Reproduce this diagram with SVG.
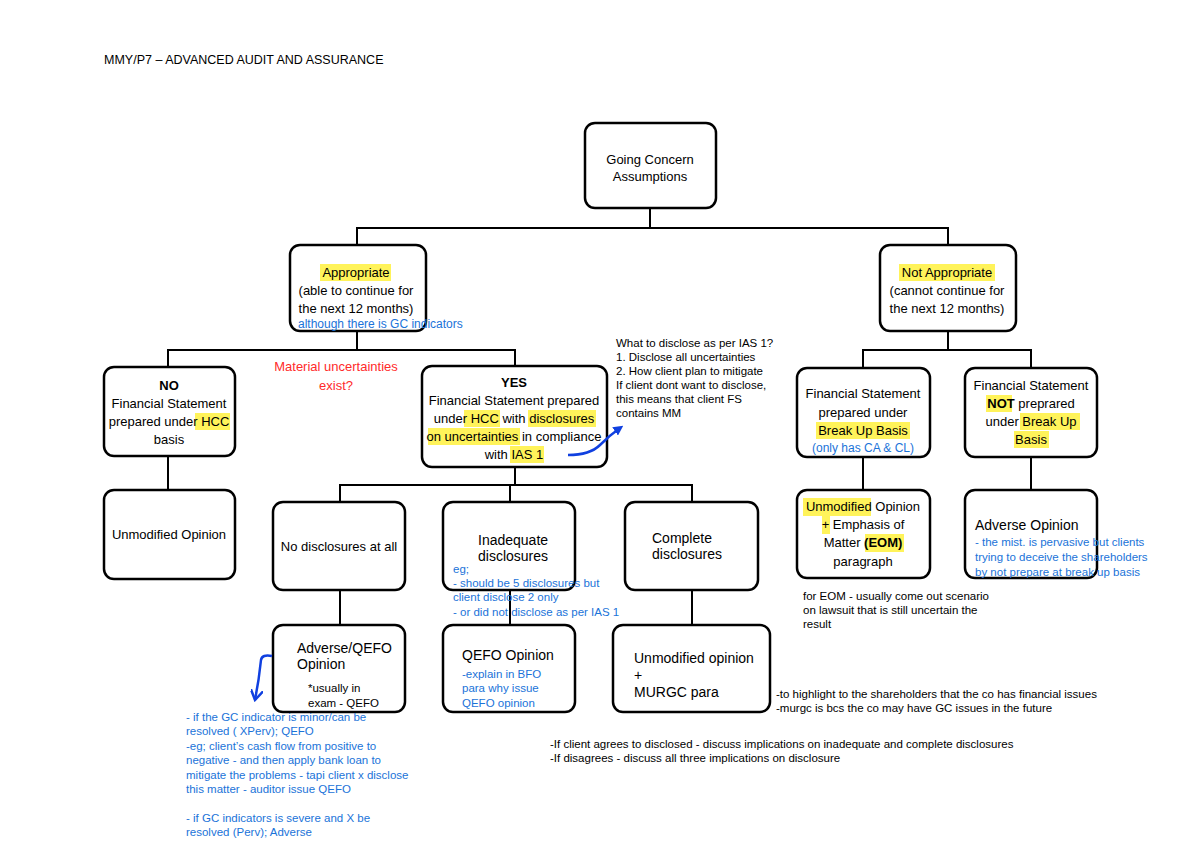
<svg xmlns="http://www.w3.org/2000/svg" width="1200" height="849" viewBox="0 0 1200 849">
<style>
.b{fill:#fff;stroke:#000;stroke-width:2.5}
.c{fill:none;stroke:#000;stroke-width:2}
text{font-family:"Liberation Sans",Arial,sans-serif;font-size:13px;fill:#000}
.m{text-anchor:middle}
.s{font-size:11.5px}
.bl{fill:#1a73d9}
.r{fill:#ff2a2a}
.h{fill:#fff35a}
.ba{fill:none;stroke:#1040e0;stroke-width:2.5}
</style>
<defs><marker id="ah" viewBox="0 0 10 10" refX="6" refY="5" markerWidth="4" markerHeight="4" orient="auto"><path d="M0,0 L10,5 L0,10 z" fill="#1040e0"/></marker>
<marker id="av" viewBox="0 0 10 10" refX="8" refY="5" markerWidth="5" markerHeight="5" orient="auto"><path d="M0,0 L8,5 L0,10" fill="none" stroke="#1040e0" stroke-width="2"/></marker></defs>
<rect width="1200" height="849" fill="#fff"/>
<text x="104" y="64" style="font-size:12.5px">MMY/P7 – ADVANCED AUDIT AND ASSURANCE</text>
<g id="connectors">
<path class="c" d="M650,208V228M357,245V228H948V245M357,331V350M168,367V350H515V366M168,456V490M515,467V485M340,502V485H692V502M510,485V502M340,590V625M510,590V625M692,590V625M948,331V350M863,368V350H1031V368M863,457V490M1031,457V490"/>
</g>
<g id="n-gc"><rect class="b" x="585" y="123" width="131" height="85" rx="10"/><text class="m" x="650" y="164">Going Concern</text><text class="m" x="650" y="181">Assumptions</text></g>
<g id="n-app"><rect class="b" x="290" y="245" width="136" height="86" rx="10"/>
<rect class="h" x="320" y="264" width="71" height="17"/><text class="m" x="356" y="277">Appropriate</text>
<text class="m" x="356" y="295">(able to continue for</text><text class="m" x="356" y="313">the next 12 months)</text>
<text class="bl" x="298" y="328" style="font-size:12px">although there is GC indicators</text></g>
<g id="n-napp"><rect class="b" x="880" y="245" width="136" height="86" rx="10"/>
<rect class="h" x="899" y="264" width="96" height="17"/><text class="m" x="947" y="277">Not Appropriate</text>
<text class="m" x="947" y="295">(cannot continue for</text><text class="m" x="947" y="313">the next 12 months)</text></g>
<text class="m r" x="336" y="371">Material uncertainties</text><text class="m r" x="336" y="390">exist?</text>
<g id="n-no"><rect class="b" x="104" y="367" width="131" height="89" rx="10"/>
<text class="m" x="169" y="390" font-weight="bold">NO</text><text class="m" x="169" y="408">Financial Statement</text>
<rect class="h" x="195" y="413" width="35" height="17"/><text class="m" x="169" y="426">prepared under HCC</text><text class="m" x="169" y="444">basis</text></g>
<g id="n-yes"><rect class="b" x="422" y="366" width="185" height="101" rx="10"/>
<text class="m" x="514" y="387" font-weight="bold">YES</text><text class="m" x="514" y="405">Financial Statement prepared</text>
<rect class="h" x="464" y="410" width="36" height="17"/><rect class="h" x="528" y="410" width="68" height="17"/><rect class="h" x="428" y="428" width="92" height="17"/><rect class="h" x="510" y="446" width="34" height="17"/>
<text class="m" x="514" y="423">under HCC with disclosures</text><text class="m" x="514" y="441">on uncertainties in compliance</text><text class="m" x="514" y="459">with IAS 1</text></g>
<g id="n-fsbu"><rect class="b" x="797" y="368" width="133" height="89" rx="10"/>
<text class="m" x="863" y="398">Financial Statement</text><text class="m" x="863" y="417">prepared under</text>
<rect class="h" x="816" y="422" width="94" height="17"/><text class="m" x="863" y="435">Break Up Basis</text>
<text class="m bl" x="863" y="452" style="font-size:12px">(only has CA &amp; CL)</text></g>
<g id="n-fsnot"><rect class="b" x="965" y="368" width="132" height="89" rx="10"/>
<text class="m" x="1031" y="390">Financial Statement</text>
<rect class="h" x="986" y="395" width="26" height="17"/><text class="m" x="1031" y="408"><tspan font-weight="bold">NOT</tspan> preprared</text>
<rect class="h" x="1020" y="413" width="60" height="17"/><text class="m" x="1031" y="426">under Break Up</text>
<rect class="h" x="1014" y="431" width="35" height="17"/><text class="m" x="1031" y="444">Basis</text></g>
<g id="n-unmod1"><rect class="b" x="104" y="490" width="131" height="89" rx="10"/><text class="m" x="169" y="539">Unmodified Opinion</text></g>
<g id="n-nodisc"><rect class="b" x="273" y="502" width="132" height="88" rx="10"/><text class="m" x="339" y="551">No disclosures at all</text></g>
<g id="n-inad"><rect class="b" x="443" y="502" width="132" height="88" rx="10"/><text x="478" y="545" style="font-size:14px">Inadequate</text><text x="478" y="561" style="font-size:14px">disclosures</text></g>
<g id="n-comp"><rect class="b" x="625" y="502" width="133" height="88" rx="10"/><text x="652" y="543" style="font-size:14px">Complete</text><text x="652" y="559" style="font-size:14px">disclosures</text></g>
<text class="bl s" x="453" y="573">eg;</text><text class="bl s" x="453" y="587">- should be 5 disclosures but</text><text class="bl s" x="453" y="601">client disclose 2 only</text><text class="bl s" x="453" y="616">- or did not disclose as per IAS 1</text>
<g id="n-adv"><rect class="b" x="273" y="625" width="132" height="87" rx="10"/><text x="297" y="653" style="font-size:14px">Adverse/QEFO</text><text x="297" y="669" style="font-size:14px">Opinion</text><text x="308" y="692" class="s">*usually in</text><text x="308" y="707" class="s">exam - QEFO</text></g>
<g id="n-qefo"><rect class="b" x="443" y="625" width="132" height="87" rx="10"/><text x="462" y="660" style="font-size:14px">QEFO Opinion</text><text class="bl s" x="462" y="678">-explain in BFO</text><text class="bl s" x="462" y="692">para why issue</text><text class="bl s" x="462" y="707">QEFO opinion</text></g>
<g id="n-unmod2"><rect class="b" x="613" y="625" width="157" height="87" rx="10"/><text x="634" y="663" style="font-size:14px">Unmodified opinion</text><text x="634" y="680" style="font-size:14px">+</text><text x="634" y="697" style="font-size:14px">MURGC para</text></g>
<g id="n-eom"><rect class="b" x="797" y="490" width="133" height="88" rx="10"/>
<rect class="h" x="803" y="498" width="68" height="18"/><text class="m" x="863" y="511">Unmodified Opinion</text>
<rect class="h" x="822" y="516" width="8" height="18"/><text class="m" x="863" y="529">+ Emphasis of</text>
<rect class="h" x="865" y="534" width="39" height="18"/><text class="m" x="863" y="547">Matter <tspan font-weight="bold">(EOM)</tspan></text><text class="m" x="863" y="566">paragraph</text></g>
<g id="n-adv2"><rect class="b" x="965" y="490" width="132" height="88" rx="10"/><text x="975" y="530" style="font-size:14px">Adverse Opinion</text>
<text class="bl s" x="975" y="546">- the mist. is pervasive but clients</text><text class="bl s" x="975" y="561">trying to deceive the shareholders</text><text class="bl s" x="975" y="576">by not prepare at break up basis</text></g>
<g id="notes">
<text class="s" x="616" y="347">What to disclose as per IAS 1?</text><text class="s" x="616" y="361">1. Disclose all uncertainties</text><text class="s" x="616" y="375">2. How client plan to mitigate</text><text class="s" x="616" y="389">If client dont want to disclose,</text><text class="s" x="616" y="403">this means that client FS</text><text class="s" x="616" y="417">contains MM</text>
<text class="s" x="803" y="600">for EOM - usually come out scenario</text><text class="s" x="803" y="614">on lawsuit that is still uncertain the</text><text class="s" x="803" y="628">result</text>
<text class="s" x="776" y="698">-to highlight to the shareholders that the co has financial issues</text><text class="s" x="776" y="712">-murgc is bcs the co may have GC issues in the future</text>
<text class="s" x="550" y="748">-If client agrees to disclosed - discuss implications on inadequate and complete disclosures</text><text class="s" x="550" y="762">-If disagrees - discuss all three implications on disclosure</text>
<text class="bl s" x="186" y="721">- if the GC indicator is minor/can be</text><text class="bl s" x="186" y="735">resolved ( XPerv); QEFO</text><text class="bl s" x="186" y="750">-eg; client’s cash flow from positive to</text><text class="bl s" x="186" y="764">negative - and then apply bank loan to</text><text class="bl s" x="186" y="779">mitigate the problems - tapi client x disclose</text><text class="bl s" x="186" y="793">this matter - auditor issue QEFO</text>
<text class="bl s" x="186" y="822">- if GC indicators is severe and X be</text><text class="bl s" x="186" y="836">resolved (Perv); Adverse</text>
</g>
<path class="ba" d="M568,455 Q590,455 600,445 Q610,435 620,428" marker-end="url(#ah)"/>
<path class="ba" d="M272,656 Q262,654 261,660 Q259,680 255,700" marker-end="url(#av)"/>
</svg>
